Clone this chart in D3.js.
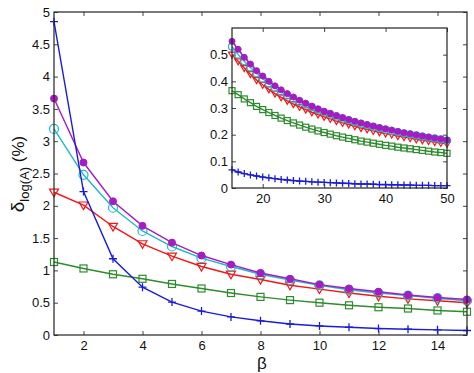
<!DOCTYPE html>
<html>
<head>
<meta charset="utf-8">
<script src="https://cdn.jsdelivr.net/npm/d3@7"></script>
<style>
  body { margin: 0; background: #fff; }
  text { font-family: "Liberation Sans", Arial, sans-serif; }
</style>
</head>
<body>
<div class="chart"></div>
<script>
// main panel: beta = 1..15
var betaMain = d3.range(1, 16);
var blueMain    = [4.85, 2.22, 1.18, 0.74, 0.51, 0.37, 0.28, 0.22, 0.17, 0.14, 0.12, 0.10, 0.09, 0.08, 0.07];
var magentaMain = [3.66, 2.67, 2.07, 1.69, 1.43, 1.23, 1.09, 0.96, 0.87, 0.78, 0.72, 0.67, 0.62, 0.58, 0.55];
var cyanMain    = [3.19, 2.48, 1.97, 1.61, 1.37, 1.19, 1.06, 0.94, 0.85, 0.77, 0.70, 0.65, 0.61, 0.57, 0.53];
var redMain     = [2.21, 2.01, 1.68, 1.41, 1.22, 1.06, 0.94, 0.86, 0.77, 0.71, 0.65, 0.60, 0.56, 0.53, 0.50];
var greenMain   = [1.13, 1.03, 0.94, 0.87, 0.79, 0.72, 0.65, 0.59, 0.54, 0.50, 0.46, 0.43, 0.41, 0.38, 0.36];

// inset: beta = 15..50
var betaInset = d3.range(15, 51);
var magentaInset = [0.55, 0.52, 0.49, 0.465, 0.44, 0.42, 0.40, 0.383, 0.368, 0.354, 0.341, 0.329, 0.318, 0.307, 0.297, 0.288, 0.280, 0.272,
                    0.264, 0.257, 0.250, 0.244, 0.238, 0.232, 0.227, 0.222, 0.217, 0.212, 0.207, 0.203, 0.199, 0.195, 0.191, 0.187, 0.184, 0.180];
var cyanInset    = [0.53, 0.50, 0.475, 0.452, 0.43, 0.41, 0.392, 0.375, 0.36, 0.347, 0.335, 0.323, 0.313, 0.303, 0.293, 0.284, 0.276, 0.268,
                    0.261, 0.254, 0.247, 0.241, 0.235, 0.230, 0.224, 0.219, 0.214, 0.210, 0.205, 0.201, 0.197, 0.193, 0.189, 0.186, 0.182, 0.178];
var redInset     = [0.50, 0.475, 0.45, 0.427, 0.405, 0.387, 0.37, 0.354, 0.34, 0.327, 0.315, 0.304, 0.294, 0.284, 0.275, 0.267, 0.259, 0.251,
                    0.244, 0.238, 0.231, 0.225, 0.220, 0.214, 0.209, 0.204, 0.200, 0.195, 0.191, 0.187, 0.183, 0.179, 0.176, 0.172, 0.169, 0.166];
var greenInset   = [0.365, 0.35, 0.334, 0.32, 0.306, 0.294, 0.283, 0.272, 0.262, 0.253, 0.244, 0.236, 0.228, 0.221, 0.214, 0.208, 0.202, 0.196,
                    0.191, 0.186, 0.181, 0.176, 0.172, 0.168, 0.164, 0.160, 0.157, 0.153, 0.150, 0.147, 0.144, 0.141, 0.138, 0.135, 0.133, 0.130];
var blueInset    = [0.068, 0.060, 0.054, 0.049, 0.045, 0.041, 0.038, 0.035, 0.032, 0.030, 0.028, 0.026, 0.025, 0.023, 0.022, 0.021, 0.020, 0.019,
                    0.018, 0.017, 0.016, 0.015, 0.015, 0.014, 0.013, 0.013, 0.012, 0.012, 0.011, 0.011, 0.010, 0.010, 0.010, 0.009, 0.009, 0.009];

var mainXTicks = [2, 4, 6, 8, 10, 12, 14];
var mainYTicks = [0, 0.5, 1, 1.5, 2, 2.5, 3, 3.5, 4, 4.5, 5];
var insetXTicks = [20, 30, 40, 50];
var insetYTicks = [0, 0.1, 0.2, 0.3, 0.4, 0.5];

var colors = { blue: "#1c1cd8", magenta: "#a61cc4", cyan: "#22b8c8", red: "#f01818", green: "#2e8b2e" };

var svgWidth = 474;
var svgHeight = 373;

var svg = d3.select(".chart")
  .append("svg")
  .attr("width", svgWidth)
  .attr("height", svgHeight);

// scales
var xMain = d3.scaleLinear().domain([1, 15]).range([54, 467]);
var yMain = d3.scaleLinear().domain([0, 5]).range([335, 12]);
var xInset = d3.scaleLinear().domain([15, 50]).range([232, 447]);
var yInset = d3.scaleLinear().domain([0, 0.6]).range([188, 28]);

function fmt(d) { return String(d); }

function drawFrame(x, y, xTicks, yTicks, fontSize, xPad, yPad) {
  var g = svg.append("g");
  var x0 = x.range()[0], x1 = x.range()[1];
  var y0 = y.range()[0], y1 = y.range()[1];

  g.append("rect")
    .attr("x", x0).attr("y", y1)
    .attr("width", x1 - x0).attr("height", y0 - y1)
    .attr("fill", "#fff");

  var bottom = g.append("g")
    .attr("transform", `translate(0, ${y0})`)
    .call(d3.axisBottom(x).tickValues(xTicks).tickFormat(fmt).tickSize(-4).tickPadding(xPad));
  var top = g.append("g")
    .attr("transform", `translate(0, ${y1})`)
    .call(d3.axisTop(x).tickValues(xTicks).tickFormat("").tickSize(-4));
  var left = g.append("g")
    .attr("transform", `translate(${x0}, 0)`)
    .call(d3.axisLeft(y).tickValues(yTicks).tickFormat(fmt).tickSize(-4).tickPadding(yPad));
  var right = g.append("g")
    .attr("transform", `translate(${x1}, 0)`)
    .call(d3.axisRight(y).tickValues(yTicks).tickFormat("").tickSize(-4));

  [bottom, top, left, right].forEach(function(a) {
    a.select(".domain").remove();
    a.selectAll("line").attr("stroke", "#444");
    a.selectAll("text")
      .attr("fill", "#111")
      .style("font-size", fontSize + "px")
      .style("font-family", "Liberation Sans, Arial, sans-serif");
  });

  return g;
}

function drawSeries(g, x, y, betas, vals, color, marker, size) {
  var pts = betas.map(function(b, i) { return [b, vals[i]]; });
  var line = d3.line().x(d => x(d[0])).y(d => y(d[1]));
  g.append("path")
    .datum(pts)
    .attr("d", line)
    .attr("fill", "none")
    .attr("stroke", color)
    .attr("stroke-width", 1.4);

  var m = g.selectAll(null).data(pts).enter();
  if (marker === "plus") {
    m.append("path")
      .attr("d", d => `M${x(d[0]) - size},${y(d[1])}h${2 * size}M${x(d[0])},${y(d[1]) - size}v${2 * size}`)
      .attr("stroke", color).attr("stroke-width", 1.3).attr("fill", "none");
  } else if (marker === "dot") {
    m.append("circle")
      .attr("cx", d => x(d[0])).attr("cy", d => y(d[1])).attr("r", size)
      .attr("fill", color).attr("stroke", color).attr("stroke-width", 1);
  } else if (marker === "circle") {
    m.append("circle")
      .attr("cx", d => x(d[0])).attr("cy", d => y(d[1])).attr("r", size)
      .attr("fill", "none").attr("stroke", color).attr("stroke-width", 1.2);
  } else if (marker === "tri") {
    m.append("path")
      .attr("d", d => {
        var cx = x(d[0]), cy = y(d[1]);
        return `M${cx - size},${cy - size * 0.7}L${cx + size},${cy - size * 0.7}L${cx},${cy + size}Z`;
      })
      .attr("fill", "none").attr("stroke", color).attr("stroke-width", 1.2);
  } else if (marker === "square") {
    m.append("rect")
      .attr("x", d => x(d[0]) - size).attr("y", d => y(d[1]) - size)
      .attr("width", 2 * size).attr("height", 2 * size)
      .attr("fill", "none").attr("stroke", color).attr("stroke-width", 1.2);
  }
}

function drawBorder(x, y) {
  svg.append("rect")
    .attr("x", x.range()[0]).attr("y", y.range()[1])
    .attr("width", x.range()[1] - x.range()[0])
    .attr("height", y.range()[0] - y.range()[1])
    .attr("fill", "none").attr("stroke", "#222").attr("stroke-width", 1.2);
}

// main chart
var mainG = drawFrame(xMain, yMain, mainXTicks, mainYTicks, 13, 6, 4);
drawSeries(mainG, xMain, yMain, betaMain, greenMain, colors.green, "square", 3.5);
drawSeries(mainG, xMain, yMain, betaMain, redMain, colors.red, "tri", 4.5);
drawSeries(mainG, xMain, yMain, betaMain, cyanMain, colors.cyan, "circle", 4.5);
drawSeries(mainG, xMain, yMain, betaMain, magentaMain, colors.magenta, "dot", 3.5);
drawSeries(mainG, xMain, yMain, betaMain, blueMain, colors.blue, "plus", 4);
drawBorder(xMain, yMain);

// inset
var insetG = drawFrame(xInset, yInset, insetXTicks, insetYTicks, 13, 6, 4);
drawSeries(insetG, xInset, yInset, betaInset, greenInset, colors.green, "square", 3);
drawSeries(insetG, xInset, yInset, betaInset, redInset, colors.red, "tri", 3.5);
drawSeries(insetG, xInset, yInset, betaInset, cyanInset, colors.cyan, "circle", 3.5);
drawSeries(insetG, xInset, yInset, betaInset, magentaInset, colors.magenta, "dot", 3);
drawSeries(insetG, xInset, yInset, betaInset, blueInset, colors.blue, "plus", 3.5);
drawBorder(xInset, yInset);

// axis labels
svg.append("text")
  .attr("x", 262)
  .attr("y", 369)
  .attr("text-anchor", "middle")
  .style("font-size", "17px")
  .attr("fill", "#111")
  .text("β");

var yLab = svg.append("text")
  .attr("transform", "translate(24, 174) rotate(-90)")
  .attr("text-anchor", "middle")
  .attr("fill", "#111");
yLab.append("tspan").style("font-size", "19px").text("δ");
yLab.append("tspan").style("font-size", "13px").attr("dy", 5).text("log(A)");
yLab.append("tspan").style("font-size", "17px").attr("dy", -5).text(" (%)");
</script>
</body>
</html>
